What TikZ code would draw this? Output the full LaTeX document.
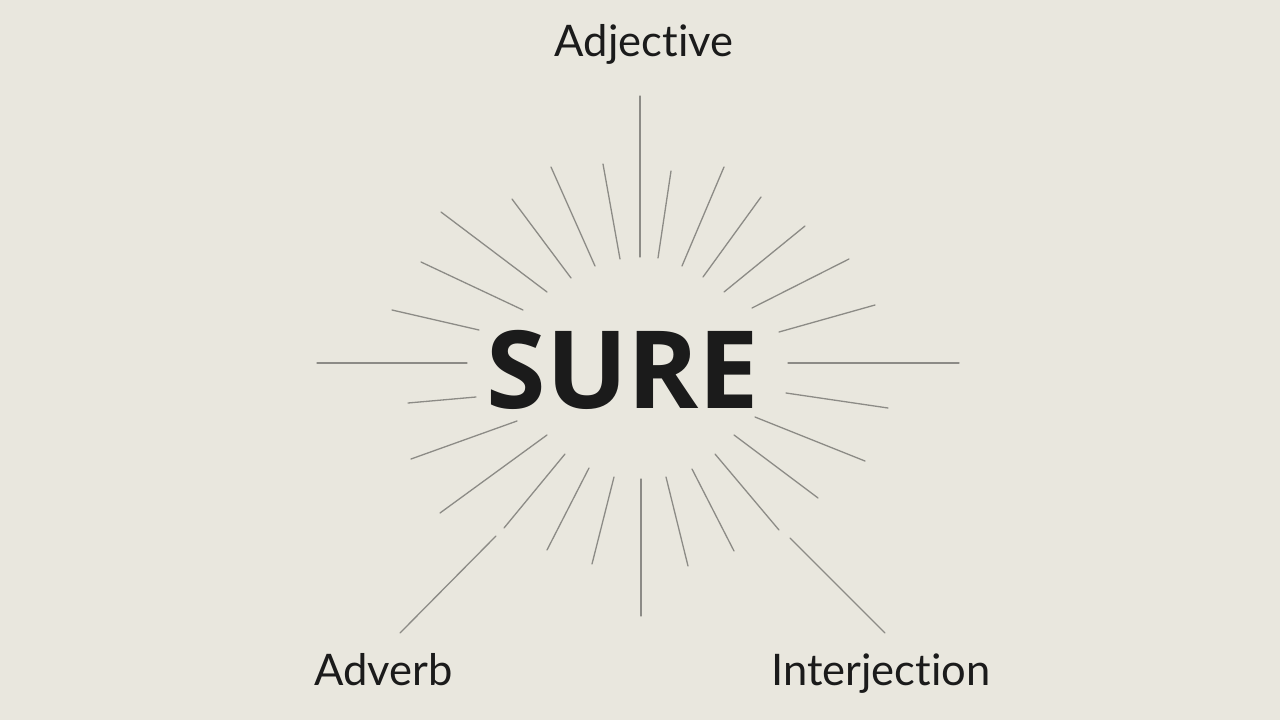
\documentclass[tikz,border=0pt]{standalone}
\usepackage{fontspec}
\setmainfont[Ligatures=NoCommon]{Lato}
\newfontfamily\surefont{Open Sans}
\definecolor{bgc}{HTML}{E9E7DE}
\definecolor{rayc}{HTML}{8C8B86}
\definecolor{txtc}{HTML}{1B1B1B}
\tikzset{
  ray/.style={draw=rayc, line width=1.3pt, line cap=round},
  lbl/.style={inner sep=0pt, text=txtc, font=\fontsize{43.5}{48}\selectfont},
  title/.style={inner sep=0pt, text=txtc, font=\surefont\bfseries\fontsize{108}{110}\selectfont}
}
\begin{document}
\begin{tikzpicture}[x=1pt,y=-1pt]
\fill[bgc] (0,0) rectangle (1280,720);
\useasboundingbox (0,0) rectangle (1280,720);
\node[title, anchor=base] (sure) at (623,408) {SURE};
\node[lbl, anchor=base] (adj) at (644,56) {Adjective};
\node[lbl, anchor=base west] (adv) at (314,685) {Adverb};
\node[lbl, anchor=base west] (inter) at (771,685) {Interjection};
\foreach \a/\b/\c/\d in {
 392/310/479/330, 421/262/523/310, 441/212/547/292, 512/199/571/278,
 551/167/595/266, 603/164/620/259, 640/96/640/257, 671/171/658/258,
 724/167/682/266, 761/197/703/277, 805/226/724/292, 849/259/752/308,
 875/305/779/332,
 317/363/467/363, 788/363/959/363,
 408/403/476/397, 411/459/517/421, 440/513/547/435, 504/528/565/454,
 400/633/496/536, 547/550/589/468, 592/564/614/477, 641/616/641/479,
 688/566/666/477, 734/551/692/469, 779/530/715/454, 818/498/734/435,
 865/461/755/417, 888/408/786/393, 885/633/790/538}
 \draw[ray] (\a,\b) -- (\c,\d);
\end{tikzpicture}
\end{document}
